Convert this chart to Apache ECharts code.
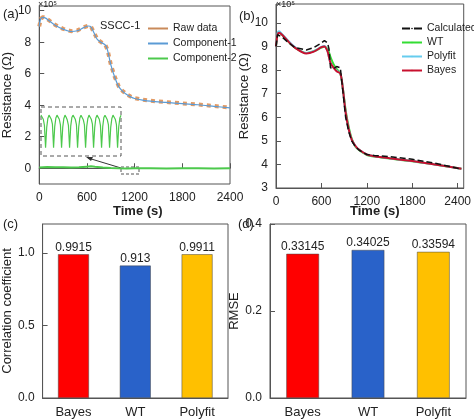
<!DOCTYPE html><html><head><meta charset="utf-8">
<script src="https://cdn.jsdelivr.net/npm/echarts@6/dist/echarts.min.js"></script>
<style>html,body{margin:0;padding:0;background:#fff}#c{width:474px;height:419px}</style></head><body><div id="c"></div>
<script>
const tA=[0,20,50,80,120,200,300,400,480,560,620,650,690,730,780,830,860,900,950,1000,1050,1100,1150,1200,1300,1400,1600,1800,2000,2200,2400];
const raw=[9.0,9.5,9.6,9.55,9.4,9.1,8.85,8.7,8.75,8.95,9.05,9.0,8.6,8.2,8.0,7.85,7.5,6.6,5.8,5.2,4.9,4.7,4.55,4.45,4.35,4.28,4.2,4.12,4.05,3.95,3.85];
const comp1=[9.0,9.5,9.58,9.53,9.38,9.08,8.83,8.68,8.73,8.93,9.03,8.98,8.58,8.18,7.98,7.83,7.48,6.58,5.78,5.18,4.88,4.68,4.53,4.43,4.33,4.26,4.18,4.1,4.03,3.93,3.83];
const tC=[0,100,200,300,400,500,600,650,700,800,900,1000,1100,1200,1400,1600,1800,2000,2200,2400];
const comp2=[0.05,0.08,0.06,0.07,0.05,0.06,0.1,0.12,0.09,0.05,0.02,0.0,-0.01,0.0,0.0,-0.01,0.0,0.0,-0.01,0.0];
const inset=[1,0.95,0.9,0.75,0.2,0.7,0.92,1,0.97,0.9,0.78,0.2,0.72,0.93,1,0.96,0.9,0.76,0.2,0.7,0.92,1,0.95,0.88,0.75,0.2,0.73,0.94,1,0.97,0.9,0.77,0.2,0.71,0.93,1,0.96,0.89,0.76,0.2,0.72,0.92,1,0.95,0.9,0.78,0.2,0.7,0.93,1,0.96,0.9,0.75,0.2,0.72,0.94,1,0.97,0.89,0.76,0.2,0.7,0.92,1,0.95,0.9,0.77,0.2,0.71,0.93,1];
const tB=[0,20,40,80,150,250,400,500,600,640,680,700,720,760,800,850,880,920,960,1000,1050,1100,1200,1300,1500,1800,2100,2450];
const calc=[9.0,9.5,9.55,9.4,9.2,8.95,8.85,8.95,9.15,9.25,9.15,8.9,8.1,8.05,8.15,8.1,7.2,6.0,5.4,5.0,4.75,4.6,4.42,4.38,4.33,4.22,4.05,3.8];
const wt=[9.0,9.5,9.6,9.5,9.25,8.95,8.72,8.8,8.95,9.0,8.9,8.75,8.55,8.25,8.05,7.85,7.3,6.3,5.6,5.1,4.75,4.6,4.4,4.33,4.25,4.13,4.0,3.82];
const poly=[9.0,9.55,9.65,9.52,9.28,8.97,8.72,8.8,8.98,9.02,8.8,8.55,8.3,8.1,7.98,7.85,7.3,6.2,5.5,5.05,4.78,4.62,4.42,4.35,4.26,4.14,4.0,3.82];
const bayes=[9.0,9.5,9.58,9.5,9.25,8.95,8.7,8.78,8.97,9.0,8.8,8.55,8.3,8.1,7.95,7.85,7.3,6.2,5.5,5.05,4.78,4.62,4.42,4.35,4.26,4.14,4.0,3.82];
const methods=['Bayes','WT','Polyfit'];
const corr=[0.9915,0.913,0.9911];
const rmse=[0.33145,0.34025,0.33594];
const barColors=['#FF0000','#2962C9','#FFC000'];
const pair=(xs,ys)=>xs.map((x,i)=>[x,ys[i]]);
const F='Arial, Liberation Sans, sans-serif';
const lab=(o)=>Object.assign({color:'#222',fontSize:12,fontFamily:F},o||{});
const ax={axisLine:{show:true,lineStyle:{color:'#555'}},axisTick:{show:true,inside:true,lineStyle:{color:'#555'}},splitLine:{show:false},axisLabel:lab()};
const nm={fontSize:13,fontFamily:F,color:'#222'};
const grids=[
 {left:37,right:244,top:6,bottom:235,show:true,borderColor:'#555'},
 {left:276,right:8,top:4,bottom:231,show:true,borderColor:'#555'},
 {left:37,right:246,top:224,bottom:20,show:true,borderColor:'#555'},
 {left:270,right:8,top:224,bottom:20,show:true,borderColor:'#555'},
 {left:41,top:107,width:80,height:49}
];
const xT=[0,600,1200,1800,2400];
const chart=echarts.init(document.getElementById('c'));
chart.setOption({animation:false,
 grid:grids,
 title:[{text:'Time (s)',left:108,top:200,textStyle:{fontSize:13,fontWeight:'bold',fontFamily:F,color:'#222'}},
 {text:'Time (s)',left:345,top:200,textStyle:{fontSize:13,fontWeight:'bold',fontFamily:F,color:'#222'}}],
 xAxis:[
  Object.assign({},ax,{gridIndex:0,type:'value',min:0,max:2400,interval:600,axisLabel:lab({formatter:v=>String(v)})}),
  Object.assign({},ax,{gridIndex:1,type:'value',min:0,max:2480,interval:600,axisLabel:lab({customValues:xT,formatter:v=>String(v)}),axisTick:{show:true,inside:true,customValues:xT}}),
  Object.assign({},ax,{gridIndex:2,type:'category',data:methods,axisTick:{show:false},axisLabel:lab({fontSize:13})}),
  Object.assign({},ax,{gridIndex:3,type:'category',data:methods,axisTick:{show:false},axisLabel:lab({fontSize:13})}),
  {gridIndex:4,type:'category',show:false,boundaryGap:false,data:inset.map((v,i)=>i)}
 ],
 yAxis:[
  Object.assign({},ax,{gridIndex:0,type:'value',min:-1,max:10.3,interval:2,axisLabel:lab({customValues:[0,2,4,6,8,10]}),axisTick:{show:true,inside:true,customValues:[0,2,4,6,8,10]},name:'Resistance (Ω)',nameLocation:'middle',nameGap:22,nameTextStyle:nm}),
  Object.assign({},ax,{gridIndex:1,type:'value',min:3,max:10.8,interval:1,axisLabel:lab({customValues:[3,4,5,6,7,8,9,10]}),axisTick:{show:true,inside:true,customValues:[3,4,5,6,7,8,9,10]},name:'Resistance (Ω)',nameLocation:'middle',nameGap:22,nameTextStyle:nm}),
  Object.assign({},ax,{gridIndex:2,type:'value',min:0,max:1.2,interval:0.5,axisLabel:lab({customValues:[0,0.5,1],formatter:v=>v.toFixed(1)}),axisTick:{show:true,inside:true,customValues:[0,0.5,1]},name:'Correlation coefficient',nameLocation:'middle',nameGap:25,nameTextStyle:nm}),
  Object.assign({},ax,{gridIndex:3,type:'value',min:0,max:0.4,interval:0.2,axisLabel:lab({formatter:v=>v.toFixed(1)}),name:'RMSE',nameLocation:'middle',nameGap:25,nameTextStyle:nm}),
  {gridIndex:4,type:'value',show:false,min:0,max:1.2}
 ],
 legend:[
  {data:['Raw data','Component-1','Component-2'],orient:'vertical',left:143,top:18,itemWidth:20,itemHeight:2,itemGap:4,icon:'rect',textStyle:{fontSize:10.5,fontFamily:F,color:'#222'}},
  {data:['Calculated','WT','Polyfit','Bayes'],orient:'vertical',left:396,top:18,itemWidth:20,itemHeight:2,itemGap:3,textStyle:{fontSize:10.5,fontFamily:F,color:'#222'}}
 ],
 graphic:[
  {type:'text',left:3,top:8,style:{text:'(a)',fontSize:13,fontFamily:F,fill:'#222'}},
  {type:'text',left:239,top:10,style:{text:'(b)',fontSize:13,fontFamily:F,fill:'#222'}},
  {type:'text',left:3,top:218,style:{text:'(c)',fontSize:13,fontFamily:F,fill:'#222'}},
  {type:'text',left:238,top:218,style:{text:'(d)',fontSize:13,fontFamily:F,fill:'#222'}},
  {type:'text',left:38,top:0,style:{text:'×10⁵',fontSize:9,fontFamily:F,fill:'#222'}},
  {type:'text',left:276,top:0,style:{text:'×10⁵',fontSize:9,fontFamily:F,fill:'#222'}},
  {type:'text',left:100,top:20,style:{text:'SSCC-1',fontSize:11,fontFamily:F,fill:'#222'}},
  {type:'rect',shape:{x:41,y:107,width:80,height:49},style:{fill:'none',stroke:'#555',lineDash:[4,3]}},
  {type:'rect',shape:{x:121,y:167,width:18,height:7},style:{fill:'none',stroke:'#555',lineDash:[3,2]}},
  {type:'line',shape:{x1:121,y1:168,x2:88,y2:158},style:{stroke:'#333'}},
  {type:'polygon',shape:{points:[[86,157],[93,157],[91,161]]},style:{fill:'#333'}}
 ],
 series:[
  {name:'Raw data',type:'line',xAxisIndex:0,yAxisIndex:0,data:pair(tA,raw),symbol:'none',lineStyle:{color:'#E39A63',width:4,type:'dotted'},itemStyle:{color:'#C98A5A'}},
  {name:'Component-1',type:'line',xAxisIndex:0,yAxisIndex:0,data:pair(tA,comp1),symbol:'none',smooth:0.3,lineStyle:{color:'#5B9BD5',width:1.2},itemStyle:{color:'#5B9BD5'}},
  {name:'Component-2',type:'line',xAxisIndex:0,yAxisIndex:0,data:pair(tC,comp2),symbol:'none',lineStyle:{color:'#4CC94C',width:2},itemStyle:{color:'#4CC94C'}},
  {type:'line',xAxisIndex:4,yAxisIndex:4,data:inset,symbol:'none',lineStyle:{color:'#4CC94C',width:1.2}},
  {name:'Calculated',type:'line',xAxisIndex:1,yAxisIndex:1,data:pair(tB,calc),symbol:'none',lineStyle:{color:'#111',width:1.5,type:'dashed'},itemStyle:{color:'#111'},z:5},
  {name:'WT',type:'line',xAxisIndex:1,yAxisIndex:1,data:pair(tB,wt),symbol:'none',smooth:0.3,lineStyle:{color:'#33DD33',width:2},itemStyle:{color:'#33DD33'}},
  {name:'Polyfit',type:'line',xAxisIndex:1,yAxisIndex:1,data:pair(tB,poly),symbol:'none',smooth:0.3,lineStyle:{color:'#66CCEE',width:2},itemStyle:{color:'#66CCEE'}},
  {name:'Bayes',type:'line',xAxisIndex:1,yAxisIndex:1,data:pair(tB,bayes),symbol:'none',smooth:0.3,lineStyle:{color:'#C8102E',width:2},itemStyle:{color:'#C8102E'}},
  {type:'bar',xAxisIndex:2,yAxisIndex:2,barWidth:'50%',data:corr.map((v,i)=>({value:v,itemStyle:{color:barColors[i],borderColor:'#444',borderWidth:0.5}})),label:{show:true,position:'top',distance:1,fontSize:12,fontFamily:F,color:'#222',formatter:p=>String(p.value)}},
  {type:'bar',xAxisIndex:3,yAxisIndex:3,barWidth:'50%',data:rmse.map((v,i)=>({value:v,itemStyle:{color:barColors[i],borderColor:'#444',borderWidth:0.5}})),label:{show:true,position:'top',distance:1,fontSize:12,fontFamily:F,color:'#222',formatter:p=>String(p.value)}}
 ]
});
</script></body></html>
